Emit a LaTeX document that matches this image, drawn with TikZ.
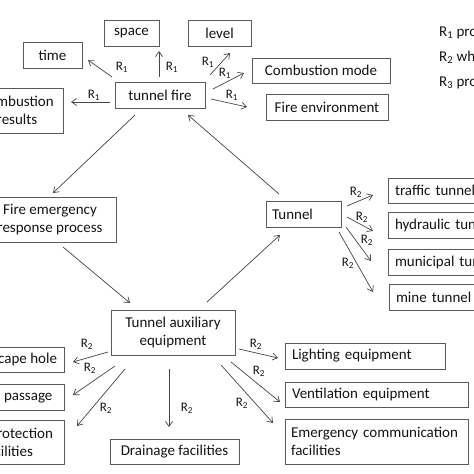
\documentclass[tikz,border=0pt]{standalone}
\usepackage{fontspec}
\setmainfont{Carlito}
\usetikzlibrary{arrows.meta}
\definecolor{boxline}{HTML}{5A5A5A}
\definecolor{arrline}{HTML}{454545}
\definecolor{txt}{HTML}{141414}
\tikzset{
  box/.style={draw=boxline, line width=0.9pt, inner sep=0pt, text=txt, font=\fontsize{15}{18}\selectfont, align=center},
  lbox/.style={box, align=left},
  arr/.style={draw=arrline, line width=0.7pt, -{Straight Barb[length=5pt,width=7pt]}},
  lbl/.style={inner sep=0pt, text=txt, font=\fontsize{13}{15}\selectfont},
  leg/.style={inner sep=0pt, anchor=west, text=txt, font=\fontsize{15}{18}\selectfont},
}
\begin{document}
\begin{tikzpicture}[x=1pt,y=-1pt]
\useasboundingbox (0,0) rectangle (474,474);
\clip (0,0) rectangle (474,474);
\fill[white] (0,0) rectangle (474,474);

% nodes
\node[box, minimum width=55pt, minimum height=26pt] (space) at (131.5,33) {space};
\node[box, minimum width=63pt, minimum height=26pt] (level) at (219.5,33) {level};
\node[box, minimum width=59pt, minimum height=26pt] (time) at (52.5,55) {time};
\node[box, minimum width=90pt, minimum height=26pt] (tf) at (160,95) {tunnel fire};
\node[box, minimum width=92pt, minimum height=45pt] (cres) at (17,110.5) {Combustion\\results};
\node[box, minimum width=138pt, minimum height=25pt] (cmode) at (321,70.5) {Combustion mode};
\node[box, minimum width=122pt, minimum height=26pt] (fenv) at (327,107) {Fire environment};
\node[box, minimum width=132pt, minimum height=45pt] (fer) at (50,219.5) {Fire emergency\\response process};
\node[lbox, minimum width=75pt, minimum height=26pt, text width=63pt, inner xsep=6pt] (tun) at (303.5,214) {Tunnel};
\node[lbox, minimum width=130pt, minimum height=25pt, text width=116pt, inner xsep=7pt] (traffic) at (453,190.5) {traffic tunnel};
\node[lbox, minimum width=130pt, minimum height=26pt, text width=116pt, inner xsep=7pt] (hydr) at (453,225) {hydraulic tunnel};
\node[lbox, minimum width=130pt, minimum height=26pt, text width=116pt, inner xsep=7pt] (munic) at (453,262) {municipal tunnel};
\node[lbox, minimum width=130pt, minimum height=26pt, text width=116pt, inner xsep=7pt] (mine) at (454,297) {mine tunnel};
\node[box, minimum width=124pt, minimum height=45pt] (tae) at (173,332.5) {Tunnel auxiliary\\equipment};
\node[box, minimum width=86pt, minimum height=25pt] (esc) at (21,359.5) {Escape hole};
\node[box, minimum width=141pt, minimum height=26pt] (pass) at (-6.5,397) {Evacuation passage};
\node[box, minimum width=112pt, minimum height=44pt] (prot) at (8,442) {Fire protection\\facilities};
\node[box, minimum width=129pt, minimum height=25pt] (drain) at (174.5,451.5) {Drainage facilities};
\node[lbox, minimum width=160pt, minimum height=26pt, text width=146pt, inner xsep=7pt] (light) at (365,356) {Lighting equipment};
\node[lbox, minimum width=183pt, minimum height=25pt, text width=169pt, inner xsep=7pt] (vent) at (376.5,394.5) {Ventilation equipment};
\node[lbox, minimum width=183pt, minimum height=45pt, text width=171pt, inner xsep=6pt] (emerg) at (376.5,441.5) {Emergency communication\\facilities};

% legend
\node[leg] (l1) at (439,32) {R\textsubscript{1} property relation};
\node[leg] (l2) at (439,57) {R\textsubscript{2} whole-part relation};
\node[leg] (l3) at (439,82) {R\textsubscript{3} process relation};

% connector end points
\coordinate (s1) at (112,77);  \coordinate (e1) at (88,60);
\coordinate (s2) at (159,77);  \coordinate (e2) at (159,51);
\coordinate (s3) at (110,102); \coordinate (e3) at (71,102);
\coordinate (s4) at (210,75);  \coordinate (e4) at (230,53);
\coordinate (s5) at (213,89);  \coordinate (e5) at (244,73);
\coordinate (s6) at (211,99);  \coordinate (e6) at (247,107);
\coordinate (s7) at (135,115); \coordinate (e7) at (53,193);
\coordinate (s8) at (63,247);  \coordinate (e8) at (130,303);
\coordinate (s9) at (207,302); \coordinate (e9) at (280,235);
\coordinate (s10) at (279,194); \coordinate (e10) at (188,115);
\coordinate (s11) at (347,206); \coordinate (e11) at (373,195);
\coordinate (s12) at (347,217); \coordinate (e12) at (373,231);
\coordinate (s13) at (346,227); \coordinate (e13) at (371,261);
\coordinate (s14) at (339,232); \coordinate (e14) at (373,292);
\coordinate (s15) at (108,352); \coordinate (e15) at (73,362);
\coordinate (s16) at (115,366); \coordinate (e16) at (73,395);
\coordinate (s17) at (125,369); \coordinate (e17) at (77,426);
\coordinate (s18) at (169,369); \coordinate (e18) at (169,427);
\coordinate (s19) at (239,349); \coordinate (e19) at (278,358);
\coordinate (s20) at (231,362); \coordinate (e20) at (280,402);
\coordinate (s21) at (221,365); \coordinate (e21) at (273,423);

% connectors
\draw[arr] (s1) -- (e1);
\draw[arr] (s2) -- (e2);
\draw[arr] (s3) -- (e3);
\draw[arr] (s4) -- (e4);
\draw[arr] (s5) -- (e5);
\draw[arr] (s6) -- (e6);
\draw[arr] (s7) -- (e7);
\draw[arr] (s8) -- (e8);
\draw[arr] (s9) -- (e9);
\draw[arr] (s10) -- (e10);
\draw[arr] (s11) -- (e11);
\draw[arr] (s12) -- (e12);
\draw[arr] (s13) -- (e13);
\draw[arr] (s14) -- (e14);
\draw[arr] (s15) -- (e15);
\draw[arr] (s16) -- (e16);
\draw[arr] (s17) -- (e17);
\draw[arr] (s18) -- (e18);
\draw[arr] (s19) -- (e19);
\draw[arr] (s20) -- (e20);
\draw[arr] (s21) -- (e21);

% labels
\node[lbl] (r1) at (122,67) {R\textsubscript{1}};
\node[lbl] (r2) at (172,67) {R\textsubscript{1}};
\node[lbl] (r3) at (94,95) {R\textsubscript{1}};
\node[lbl] (r4) at (208,62) {R\textsubscript{1}};
\node[lbl] (r5) at (225,73) {R\textsubscript{1}};
\node[lbl] (r6) at (232,95) {R\textsubscript{1}};
\node[lbl] (r11) at (356,192) {R\textsubscript{2}};
\node[lbl] (r12) at (362,217) {R\textsubscript{2}};
\node[lbl] (r13) at (367,240) {R\textsubscript{2}};
\node[lbl] (r14) at (348,263) {R\textsubscript{2}};
\node[lbl] (r15) at (87,344) {R\textsubscript{2}};
\node[lbl] (r16) at (90,368) {R\textsubscript{2}};
\node[lbl] (r17) at (106,408) {R\textsubscript{2}};
\node[lbl] (r18) at (187,408) {R\textsubscript{2}};
\node[lbl] (r19) at (256,344) {R\textsubscript{2}};
\node[lbl] (r20) at (259,371) {R\textsubscript{2}};
\node[lbl] (r21) at (242,403) {R\textsubscript{2}};
\end{tikzpicture}
\end{document}
